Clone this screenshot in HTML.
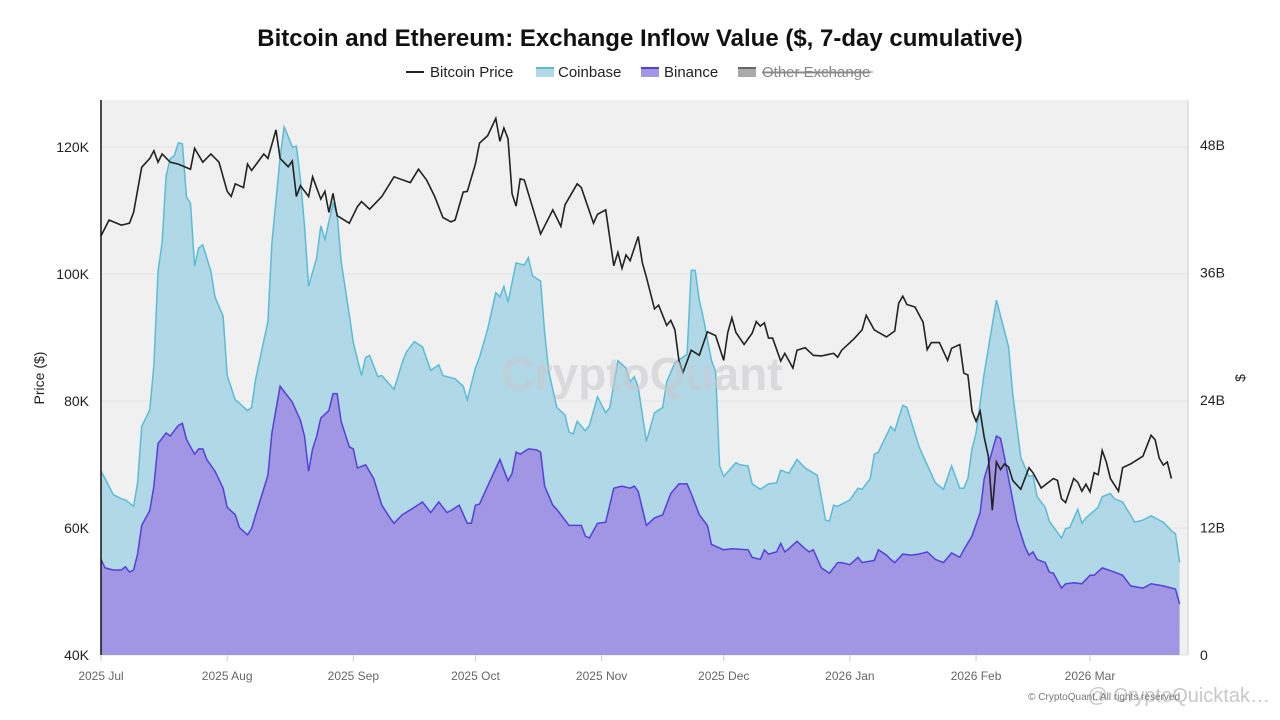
<!DOCTYPE html>
<html><head><meta charset="utf-8">
<style>
html,body{margin:0;padding:0;background:#fff;width:1280px;height:720px;overflow:hidden;font-family:"Liberation Sans",sans-serif;}
svg text{font-family:"Liberation Sans",sans-serif;}
</style></head>
<body>
<svg id="chart" width="1280" height="720">
<text x="640" y="46" text-anchor="middle" font-size="24" font-weight="bold" fill="#111">Bitcoin and Ethereum: Exchange Inflow Value ($, 7-day cumulative)</text>
<g font-size="15" fill="#222">
 <g><line x1="406" y1="72" x2="424" y2="72" stroke="#222" stroke-width="2"/><text x="430" y="77">Bitcoin Price</text></g>
 <g><rect x="536" y="67" width="18" height="10" fill="#b0d8e6"/><line x1="536" y1="68" x2="554" y2="68" stroke="#5bbcd8" stroke-width="2"/><text x="558" y="77">Coinbase</text></g>
 <g><rect x="641" y="67" width="18" height="10" fill="#a196e3"/><line x1="641" y1="68" x2="659" y2="68" stroke="#5540d8" stroke-width="2"/><text x="664" y="77">Binance</text></g>
 <g><rect x="738" y="67" width="18" height="10" fill="#aaa"/><line x1="738" y1="68" x2="756" y2="68" stroke="#666" stroke-width="2"/><text x="762" y="77" fill="#888" text-decoration="line-through">Other Exchange</text><line x1="762" y1="72" x2="873" y2="72" stroke="#888" stroke-width="1"/></g>
</g>
<rect x="101" y="100" width="1087" height="555" fill="#f0f0f0"/>
<g id="grid"></g>
<g id="areas"></g>
<text x="642" y="390" text-anchor="middle" font-size="46" fill="#c8c8cc" fill-opacity="0.55" font-weight="bold">CryptoQuant</text>
<g id="axes"></g>
<text transform="translate(44,378) rotate(-90)" text-anchor="middle" font-size="14" fill="#222">Price ($)</text>
<text transform="translate(1245,378) rotate(-90)" text-anchor="middle" font-size="14" fill="#222">$</text>
<text x="1270" y="702" text-anchor="end" font-size="20" fill="#c8c8c8">@ CryptoQuicktak…</text>
<text x="1180" y="700" text-anchor="end" font-size="10" fill="#777">© CryptoQuant. All rights reserved</text>
</svg>
<script>
const xTickLabels=["2025 Jul","2025 Aug","2025 Sep","2025 Oct","2025 Nov","2025 Dec","2026 Jan","2026 Feb","2026 Mar"];
const xTickDays=[0,31,62,92,123,153,184,215,243];
const priceTicks=[40,60,80,100,120];
const valueTicks=[0,12,24,36,48];
const priceDays=[0,2,5,7,8,10,12,13,14,15,17,19,22,23,25,27,29,31,32,33,35,36,37,40,41,43,44,46,47,48,49,51,52,54,55,56,57,58,61,63,64,66,69,72,76,78,80,82,84,86,87,89,90,92,93,95,97,98,99,100,101,102,103,104,108,111,113,114,117,118,121,122,124,126,127,128,129,130,132,133,134,136,137,139,140,141,142,143,145,147,149,151,153,154,155,156,158,160,161,162,163,164,165,167,168,170,171,173,175,177,180,181,182,185,187,188,190,193,195,196,197,198,200,202,203,204,206,208,209,211,212,213,214,215,216,217,218,219,220,221,222,223,224,226,228,229,231,234,235,236,237,239,240,241,242,243,244,245,246,247,248,250,251,253,256,258,259,260,261,262,263];
const priceK=[106,108.5,107.7,108,109.7,116.8,118.2,119.4,117.6,118.9,117.6,117.3,116.5,119.8,117.6,118.9,117.6,113,112.2,114.2,113.6,117.3,116.3,118.9,118.2,122.7,118.2,116.9,117.8,112.2,113.9,112.2,115.3,111.8,113,109.7,112.7,109.2,108,110.6,111.4,110.2,112.2,115.3,114.4,116.5,114.8,112.2,108.9,108.2,108.5,112.9,113,117.3,120.6,121.8,124.5,120.9,123,121.3,112.6,110.7,115,114.8,106.3,110.1,107.5,110.9,114.2,113.6,108,109.4,110.1,101.3,103.4,100.9,103,102.1,105.9,101.8,99.5,94.5,95.1,91.9,92.7,91.2,86.4,84.5,88,87.2,90.9,90.3,86.4,90.8,93.1,90.8,88.9,90.7,92.5,91.8,92.3,89.9,89.9,86.3,87.5,85.2,88,88.4,87.2,87.1,87.5,86.9,88,89.8,91.2,93.5,91.2,90.1,91,95.4,96.5,95.2,94.8,92.4,88.1,89.2,89.2,86.4,88.3,88.9,84.4,84.1,78.4,76.8,78.4,74.3,71.3,62.8,70.4,69.2,70.1,69.6,67.5,66.1,69.5,68.7,66.3,67.8,67.5,64.6,64,67.8,67.2,65.8,66.9,65.7,68.7,68.4,72.2,70.4,67.8,65.8,69.5,70.1,71.3,74.6,73.9,71,69.9,70.4,67.8];
const coinbaseDays=[0,1,3,5,6,8,9,10,12,13,14,15,16,17,18,19,20,21,22,23,24,25,27,28,30,31,33,34,36,37,38,41,42,44,45,46,47,48,49,50,51,53,54,55,57,58,59,61,62,64,65,66,68,69,72,74,75,77,79,81,83,84,87,89,90,92,93,95,97,98,99,100,102,104,105,106,108,109,110,112,114,115,116,117,119,120,122,124,125,127,129,130,131,132,134,136,138,139,141,144,145,146,147,148,150,151,152,153,156,157,159,160,162,164,166,167,169,171,173,176,178,179,180,181,183,184,186,187,189,190,191,194,195,197,198,201,203,205,207,209,211,212,213,214,215,217,220,223,224,226,228,229,230,232,233,236,237,238,240,241,242,245,246,248,249,251,254,256,258,260,261,263,264,265];
const coinbaseB=[17.3,16.6,15.1,14.7,14.6,14,16.2,21.5,23.1,27.3,36.1,38.8,45.1,46.7,47,48.2,48.1,43.1,42.5,36.6,38.3,38.6,36.1,33.7,31.9,26.3,24,23.7,23,23.3,26,31.4,38.8,46.8,49.7,48.8,47.8,47.9,44.8,40.4,34.7,37.4,40.4,39.1,42.5,41.5,37.1,32,29.4,26.3,28,28.2,26.2,26.3,25,27.5,28.5,29.5,29,26.8,27.3,26.3,26,25.3,24,27,28,30.7,34.1,33.7,34.7,33.2,36.9,36.7,37.4,35.7,35.2,30.4,26.7,23.3,22.6,21,20.8,22,21.1,21.6,24.3,22.8,23.3,27.7,27,25.7,26.2,25.2,20.1,22.8,23.3,25.7,27.5,28.3,36.2,36.2,33.4,31.7,27.7,26.7,17.8,16.8,18.1,17.9,17.8,16.1,15.6,16.1,16.2,17.4,17.1,18.4,17.6,16.9,12.7,12.6,14.1,14,14.4,14.6,15.7,15.6,16.6,18.9,19.1,21.5,21.1,23.5,23.3,19.6,17.9,16.2,15.6,17.8,15.7,15.7,16.6,19.4,20.9,26.5,33.4,29,24.6,18.6,16.8,16.9,14.9,13.9,12.6,11,11.9,12,13.7,12.4,12.9,13.9,14.9,15.2,14.7,14.4,12.5,12.7,13.1,12.7,12.5,11.7,11.4,8.7];
const binanceDays=[0,1,3,5,6,7,8,9,10,12,13,14,16,17,19,20,21,22,23,24,25,26,28,30,31,33,34,36,37,38,41,42,44,45,47,49,50,51,52,53,54,56,57,58,59,61,62,63,65,67,69,71,72,74,77,79,81,83,85,86,88,90,91,92,93,95,98,100,101,102,103,105,107,108,109,111,112,115,118,119,120,122,124,126,128,130,131,132,134,136,138,140,142,144,145,147,149,150,153,155,159,160,162,163,164,166,167,168,169,171,173,174,175,177,179,181,182,184,186,187,190,191,193,194,195,197,199,201,203,205,207,209,211,212,214,216,217,218,220,221,222,224,225,227,228,229,230,232,233,234,236,237,239,241,243,244,246,249,251,253,256,258,261,264,265];
const binanceB=[9,8.2,8,8,8.3,7.8,8,9.5,12.2,13.6,15.9,19.9,20.9,20.6,21.6,21.8,20.3,19.6,18.9,19.4,19.4,18.4,17.3,15.7,13.9,13.2,12,11.3,11.9,13.2,16.9,20.9,25.3,24.8,23.8,22.1,20.6,17.3,19.4,20.6,22.3,23,24.6,24.6,22,19.6,19.4,17.6,17.9,16.6,14.1,12.9,12.4,13.2,13.9,14.4,13.4,14.4,13.4,13.6,14.1,12.4,12.4,14.1,14.2,15.9,18.4,16.4,17.1,19.1,18.9,19.4,19.3,19.1,15.9,14.1,13.7,12.2,12.2,11.2,11,12.4,12.5,15.7,15.9,15.7,15.9,15.4,12.2,12.9,13.2,15.2,16.1,16.1,15.2,13.2,12.2,10.4,9.9,10,9.9,9.2,9,9.9,9.5,9.7,10.5,9.7,10,10.7,10,9.7,9.9,8.2,7.7,8.7,8.7,8.5,9.2,8.7,8.9,9.9,9.4,9,8.7,9.5,9.4,9.5,9.7,9,8.7,9.6,9.2,9.9,11.2,13.4,16.6,17.9,20.6,20.4,18.6,14.6,12.6,10.2,9.4,9.7,9,8.7,7.8,7.7,6.3,6.7,6.8,6.7,7.5,7.5,8.2,7.8,7.5,6.5,6.3,6.7,6.5,6.2,4.8];

const X0=101,PX_DAY=4.07,Y0=655;
const xs=d=>X0+d*PX_DAY;
const yPrice=p=>Y0-(p-40)*127/20;
const yVal=v=>Y0-v*127.5/12;
const NS="http://www.w3.org/2000/svg";
function mk(tag,attrs,parent){const e=document.createElementNS(NS,tag);for(const k in attrs)e.setAttribute(k,attrs[k]);parent.appendChild(e);return e;}
const grid=document.getElementById('grid'),areas=document.getElementById('areas'),axes=document.getElementById('axes');
priceTicks.forEach(t=>{const y=yPrice(t);
 const g=mk('line',{x1:101,x2:1188,y1:y,y2:y,stroke:'#e4e4e4','stroke-width':1},grid);
 
 
 const tx=mk('text',{x:89,y:y+5,'text-anchor':'end','font-size':14,fill:'#222'},axes);tx.textContent=t+'K';
 
 
});
valueTicks.forEach(t=>{const y=yVal(t);
 const tx=mk('text',{x:1200,y:y+5,'font-size':14,fill:'#222'},axes);tx.textContent=t===0?'0':t+'B';
 
 
});
xTickDays.forEach((d,i)=>{const x=xs(d);
 const g=mk('line',{x1:x,x2:x,y1:655,y2:661,stroke:'#ccc'},axes);
 
 
 const tx=mk('text',{x:x,y:680,'text-anchor':'middle','font-size':12,fill:'#666'},axes);tx.textContent=xTickLabels[i];
 
 
});
function area(days,vals,fill,stroke,name){
 let pts=days.map((d,i)=>xs(d).toFixed(1)+','+yVal(vals[i]).toFixed(1));
 const a=mk('path',{d:'M'+xs(days[0])+','+Y0+' L'+pts.join(' L')+' L'+xs(days[days.length-1])+','+Y0+'Z',fill:fill},areas);
 
 
 const l=mk('path',{d:'M'+pts.join(' L'),fill:'none',stroke:stroke,'stroke-width':1.5},areas);
 
 
}
area(coinbaseDays,coinbaseB,'#b0d8e6','#5bbcd8','coinbase');
area(binanceDays,binanceB,'#a196e3','#5540d8','binance');
const pp=priceDays.map((d,i)=>xs(d).toFixed(1)+','+yPrice(priceK[i]).toFixed(1));
const pl=mk('path',{d:'M'+pp.join(' L'),fill:'none',stroke:'#222','stroke-width':1.6},areas);


const la=mk('line',{x1:101,x2:101,y1:100,y2:655,stroke:'#111','stroke-width':1.5},axes);


const ra=mk('line',{x1:1188,x2:1188,y1:100,y2:655,stroke:'#ccc','stroke-width':1},axes);


</script>
</body></html>
